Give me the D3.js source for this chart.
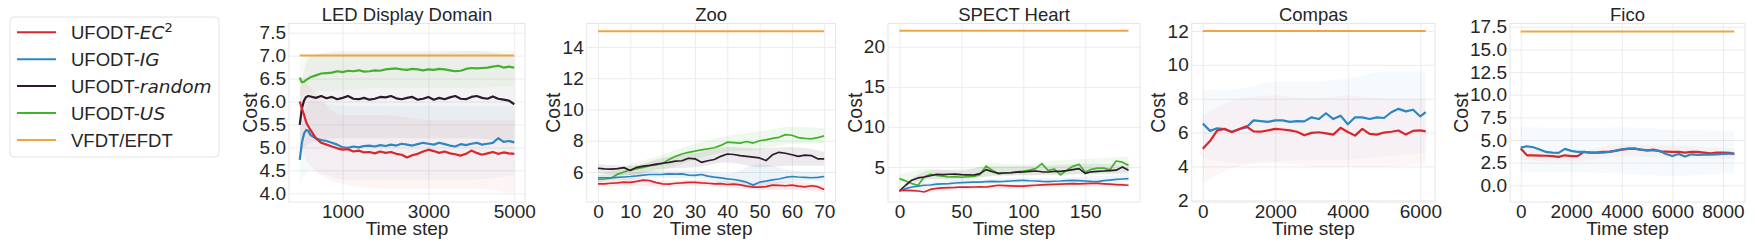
<!DOCTYPE html>
<html>
<head>
<meta charset="utf-8">
<script src="https://cdn.jsdelivr.net/npm/d3@7"></script>
<style>
  body { margin: 0; background: #fff; }
  svg { display: block; font-family: "Liberation Sans", Arial, sans-serif; }
  .grid line { stroke: #ececec; stroke-width: 1; }
  .grid path { display: none; }
  .ticks path { display: none; }
  .ticks text { fill: #262626; font-size: 19px; font-family: "Liberation Sans", Arial, sans-serif; }
</style>
</head>
<body>
<div id="vis"></div>
<script>
const W = 1755;
const H = 249;

const seriesNames = ['UFODT-EC2', 'UFODT-IG', 'UFODT-random', 'UFODT-US', 'VFDT/EFDT'];
const colors = { ec2: '#d8262b', ig: '#2e86c1', rnd: '#2b1b2c', us: '#45b02c', vfdt: '#f2a444' };

// ---- LED Display Domain ----
const ledSteps = [0, 50, 100, 150, 200, 250, 375, 500, 625, 750, 875, 1000, 1125, 1250, 1375, 1500, 1625, 1750, 1875, 2000,
  2125, 2250, 2375, 2500, 2625, 2750, 2875, 3000, 3125, 3250, 3375, 3500, 3625, 3750, 3875, 4000, 4125, 4250, 4375, 4500,
  4625, 4750, 4875, 5000];
const ledUS = [6.52, 6.42, 6.43, 6.47, 6.50, 6.53, 6.57, 6.61, 6.62, 6.63, 6.66, 6.64, 6.67, 6.66, 6.68, 6.65, 6.66, 6.68, 6.67, 6.70,
  6.71, 6.72, 6.70, 6.69, 6.71, 6.70, 6.68, 6.70, 6.69, 6.71, 6.70, 6.68, 6.66, 6.67, 6.71, 6.73, 6.72, 6.73, 6.74, 6.76,
  6.78, 6.74, 6.76, 6.74];
const ledRandom = [5.49, 5.85, 6.02, 6.10, 6.12, 6.11, 6.08, 6.12, 6.07, 6.10, 6.05, 6.08, 6.12, 6.06, 6.05, 6.08, 6.04, 6.06, 6.10, 6.09,
  6.12, 6.07, 6.05, 6.08, 6.10, 6.04, 6.06, 6.10, 6.04, 6.08, 6.05, 6.09, 6.12, 6.06, 6.05, 6.10, 6.12, 6.08, 6.06, 6.11,
  6.06, 6.04, 6.02, 5.94];
const ledEC2 = [6.00, 5.85, 5.71, 5.55, 5.46, 5.38, 5.20, 5.10, 5.06, 5.02, 4.98, 4.95, 4.96, 4.91, 4.93, 4.89, 4.90, 4.87, 4.91, 4.88,
  4.90, 4.86, 4.84, 4.78, 4.83, 4.86, 4.91, 4.95, 4.92, 4.88, 4.91, 4.87, 4.85, 4.82, 4.86, 4.93, 4.88, 4.84, 4.87, 4.90,
  4.86, 4.89, 4.87, 4.86];
const ledIG = [4.73, 5.10, 5.30, 5.38, 5.36, 5.27, 5.20, 5.16, 5.14, 5.10, 5.06, 5.00, 4.99, 5.02, 5.00, 5.03, 5.04, 5.02, 5.05, 5.03,
  5.06, 5.04, 5.08, 5.06, 5.04, 5.07, 5.10, 5.08, 5.06, 5.10, 5.07, 5.04, 5.02, 5.07, 5.05, 5.08, 5.10, 5.06, 5.08, 5.10,
  5.20, 5.12, 5.14, 5.11];
const ledBandSteps = [0, 250, 1000, 2000, 3000, 4000, 5000];
const ledUSLo = [6.10, 6.20, 6.25, 6.30, 6.30, 6.30, 6.35];
const ledUSHi = [6.90, 7.00, 7.05, 7.05, 7.05, 7.10, 7.10];
const ledRandomLo = [4.90, 5.10, 5.20, 5.20, 5.20, 5.20, 5.10];
const ledRandomHi = [6.20, 7.00, 7.10, 7.10, 7.10, 7.10, 7.00];
const ledEC2Lo = [5.00, 4.60, 4.20, 4.10, 4.10, 4.10, 4.00];
const ledEC2Hi = [6.50, 6.30, 5.70, 5.70, 5.60, 5.60, 5.60];
const ledIGLo = [4.20, 4.50, 4.30, 4.30, 4.30, 4.30, 4.40];
const ledIGHi = [5.30, 6.00, 5.90, 5.90, 5.90, 5.90, 5.90];

// ---- Zoo ----
const zooSteps = [0, 2, 4, 6, 8, 10, 12, 14, 16, 18, 20, 22, 24, 26, 28, 30, 32, 34, 36, 38, 40, 42, 44, 46, 48, 50, 52, 54, 56, 58,
  60, 62, 64, 66, 68, 70];
const zooUS = [5.52, 5.55, 5.60, 5.85, 6.00, 6.14, 6.22, 6.30, 6.40, 6.45, 6.55, 6.80, 7.00, 7.15, 7.25, 7.33, 7.42, 7.48, 7.55, 7.70,
  7.91, 7.88, 7.85, 7.95, 7.85, 8.00, 8.05, 8.15, 8.22, 8.39, 8.35, 8.20, 8.15, 8.12, 8.20, 8.31];
const zooRandom = [6.24, 6.20, 6.18, 6.22, 6.28, 6.10, 6.30, 6.38, 6.42, 6.50, 6.56, 6.62, 6.70, 6.72, 6.88, 6.84, 6.62, 6.72, 6.80, 7.00,
  7.15, 7.12, 7.05, 7.00, 6.95, 6.90, 6.73, 7.10, 7.26, 7.20, 7.10, 7.00, 7.08, 7.05, 6.84, 6.84];
const zooIG = [5.63, 5.63, 5.62, 5.65, 5.68, 5.71, 5.75, 5.80, 5.84, 5.84, 5.85, 5.88, 5.86, 5.88, 5.80, 5.78, 5.84, 5.74, 5.67, 5.62,
  5.56, 5.52, 5.45, 5.35, 5.16, 5.35, 5.42, 5.50, 5.55, 5.65, 5.71, 5.68, 5.66, 5.63, 5.66, 5.71];
const zooEC2 = [5.24, 5.24, 5.28, 5.30, 5.35, 5.33, 5.40, 5.48, 5.45, 5.32, 5.24, 5.22, 5.28, 5.30, 5.33, 5.33, 5.30, 5.28, 5.24, 5.26,
  5.20, 5.22, 5.18, 5.10, 5.03, 5.03, 5.06, 5.16, 5.14, 5.12, 5.16, 5.10, 5.05, 5.12, 5.06, 4.88];
const zooBandSteps = [0, 10, 20, 30, 40, 50, 60, 70];
const zooUSLo = [5.30, 5.80, 6.10, 6.80, 7.30, 7.40, 7.80, 7.80];
const zooUSHi = [5.80, 6.50, 7.10, 7.80, 8.30, 8.60, 8.90, 8.80];
const zooRandomLo = [5.90, 5.80, 6.20, 6.30, 6.60, 6.30, 6.40, 6.40];
const zooRandomHi = [6.50, 6.40, 6.90, 7.20, 7.60, 7.50, 7.60, 7.30];
const zooIGLo = [5.45, 5.50, 5.60, 5.60, 5.30, 5.00, 5.40, 5.40];
const zooIGHi = [5.80, 5.95, 6.10, 6.10, 5.90, 6.50, 6.10, 6.00];
const zooEC2Lo = [5.05, 5.10, 5.05, 5.10, 5.00, 4.85, 4.85, 4.70];
const zooEC2Hi = [5.45, 5.60, 5.45, 5.50, 5.40, 5.30, 5.40, 5.10];

// ---- SPECT Heart ----
const spectSteps = [0, 5, 10, 15, 20, 25, 30, 35, 40, 45, 50, 55, 60, 65, 70, 75, 80, 85, 90, 95, 100, 105, 110, 115, 120, 125,
  130, 135, 140, 145, 150, 155, 160, 165, 170, 175, 180, 185];
const spectUS = [3.55, 3.26, 2.93, 2.72, 3.75, 4.09, 3.96, 3.85, 3.75, 3.80, 3.72, 3.78, 3.82, 4.05, 5.12, 4.58, 4.16, 4.25, 4.30, 4.40,
  4.49, 4.60, 4.79, 5.42, 4.58, 4.75, 4.00, 4.60, 5.08, 5.33, 4.37, 4.70, 4.85, 4.85, 4.65, 5.75, 5.60, 5.21];
const spectRandom = [2.00, 2.72, 3.35, 3.63, 3.75, 3.90, 4.09, 4.05, 4.09, 4.10, 4.05, 4.02, 4.00, 4.17, 4.67, 4.40, 4.20, 4.25, 4.28, 4.35,
  4.37, 4.45, 4.50, 4.40, 4.37, 4.45, 4.45, 4.55, 4.67, 4.79, 4.20, 4.40, 4.45, 4.50, 4.55, 4.60, 5.00, 4.60];
const spectIG = [2.00, 2.29, 2.50, 2.60, 2.72, 2.75, 2.85, 2.90, 2.92, 3.00, 3.04, 3.08, 3.10, 3.12, 3.17, 3.20, 3.17, 3.20, 3.25, 3.30,
  3.33, 3.28, 3.25, 3.20, 3.17, 3.22, 3.25, 3.30, 3.33, 3.30, 3.25, 3.20, 3.17, 3.30, 3.37, 3.45, 3.50, 3.55];
const spectEC2 = [2.08, 2.08, 2.05, 2.00, 1.88, 2.20, 2.33, 2.38, 2.42, 2.45, 2.50, 2.48, 2.50, 2.52, 2.50, 2.60, 2.72, 2.68, 2.65, 2.62,
  2.60, 2.68, 2.72, 2.76, 2.80, 2.82, 2.85, 2.88, 2.92, 2.90, 2.92, 2.95, 2.96, 2.90, 2.85, 2.80, 2.76, 2.72];
const spectBandSteps = [0, 25, 50, 75, 100, 125, 150, 185];
const spectUSLo = [3.0, 3.3, 3.3, 3.8, 3.9, 4.1, 4.0, 4.4];
const spectUSHi = [4.0, 4.8, 4.5, 5.5, 5.3, 5.8, 6.0, 6.3];
const spectRandomLo = [1.8, 3.5, 3.5, 3.9, 4.0, 4.0, 4.2, 4.1];
const spectRandomHi = [2.3, 4.6, 4.7, 5.1, 5.1, 5.2, 5.4, 5.3];
const spectIGLo = [1.8, 2.4, 2.7, 2.9, 3.0, 2.9, 3.0, 3.1];
const spectIGHi = [2.2, 3.1, 3.4, 3.5, 3.7, 3.6, 3.8, 4.0];
const spectEC2Lo = [1.9, 1.9, 2.2, 2.3, 2.3, 2.5, 2.6, 2.5];
const spectEC2Hi = [2.2, 2.3, 2.6, 2.8, 2.9, 3.0, 3.1, 3.0];

// ---- Compas ----
const compasSteps = [0, 200, 400, 600, 800, 1000, 1200, 1400, 1600, 1800, 2000, 2200, 2400, 2600, 2800, 3000, 3200, 3400, 3600, 3800,
  4000, 4200, 4400, 4600, 4800, 5000, 5200, 5400, 5600, 5800, 6000, 6150];
const compasEC2 = [5.05, 5.50, 6.13, 6.22, 6.03, 6.20, 6.37, 6.07, 6.05, 6.13, 6.22, 6.18, 6.13, 6.05, 5.84, 5.98, 6.02, 5.95, 5.88, 6.28,
  6.03, 5.82, 6.22, 5.92, 5.88, 6.00, 6.05, 6.12, 5.88, 6.10, 6.13, 6.07];
const compasIG = [6.53, 6.10, 6.25, 6.20, 6.03, 6.20, 6.30, 6.72, 6.68, 6.63, 6.72, 6.72, 6.63, 6.68, 6.66, 6.90, 6.80, 7.14, 6.80, 7.00,
  6.49, 6.90, 6.90, 6.80, 6.90, 6.86, 7.20, 7.40, 7.25, 7.35, 6.95, 7.20];
const compasBandSteps = [0, 1000, 2000, 3000, 4000, 5000, 6150];
const compasIGLo = [4.5, 4.2, 4.3, 4.4, 4.4, 4.6, 4.8];
const compasIGHi = [8.5, 8.6, 9.0, 9.0, 9.2, 9.6, 9.6];
const compasEC2Lo = [3.0, 4.0, 4.2, 4.0, 4.0, 4.0, 4.1];
const compasEC2Hi = [7.0, 8.0, 8.2, 8.0, 8.2, 8.0, 8.0];

// ---- Fico ----
const ficoSteps = [0, 250, 500, 750, 1000, 1250, 1500, 1750, 2000, 2250, 2500, 2750, 3000, 3250, 3500, 3750, 4000, 4250, 4500, 4750,
  5000, 5250, 5500, 5750, 6000, 6250, 6500, 6750, 7000, 7250, 7500, 7750, 8000, 8250, 8450];
const ficoEC2 = [4.05, 3.31, 3.31, 3.28, 3.26, 3.22, 3.13, 3.31, 3.22, 3.22, 3.68, 3.60, 3.60, 3.68, 3.68, 3.79, 3.94, 4.01, 4.05, 3.94,
  3.86, 3.94, 3.75, 3.72, 3.68, 3.68, 3.60, 3.68, 3.68, 3.60, 3.53, 3.60, 3.60, 3.57, 3.46];
const ficoIG = [4.16, 4.31, 4.20, 3.94, 3.68, 3.60, 3.57, 4.02, 3.80, 3.68, 3.68, 3.60, 3.60, 3.60, 3.68, 3.83, 3.98, 4.05, 4.05, 3.94,
  3.86, 3.86, 3.79, 3.46, 3.24, 3.46, 3.17, 3.42, 3.35, 3.38, 3.38, 3.42, 3.46, 3.50, 3.50];
const ficoBandSteps = [0, 2000, 4000, 6000, 8450];
const ficoIGLo = [1.5, 1.4, 1.3, 1.0, 1.4];
const ficoIGHi = [6.5, 6.3, 6.4, 6.2, 6.0];
const ficoEC2Lo = [2.8, 2.6, 3.2, 3.0, 2.9];
const ficoEC2Hi = [4.3, 3.6, 4.5, 4.4, 4.0];

// VFDT/EFDT constant cost per dataset
const vfdtCost = [7, 15, 22, 12, 17];

const panels = [
  {
    title: 'LED Display Domain', left: 289, right: 525, xDomain: [-250, 5250], yDomain: [3.81, 7.70],
    xTicks: [1000, 3000, 5000], yTicks: [4.0, 4.5, 5.0, 5.5, 6.0, 6.5, 7.0, 7.5], yFmt: d3.format('.1f'), lw: 2.2,
    xs: ledSteps, bandXs: ledBandSteps, bandOpacity: 0.05,
    series: [
      { key: 'us', vals: ledUS, lo: ledUSLo, hi: ledUSHi },
      { key: 'rnd', vals: ledRandom, lo: ledRandomLo, hi: ledRandomHi },
      { key: 'ig', vals: ledIG, lo: ledIGLo, hi: ledIGHi },
      { key: 'ec2', vals: ledEC2, lo: ledEC2Lo, hi: ledEC2Hi },
    ],
  },
  {
    title: 'Zoo', left: 586.7, right: 835.5, xDomain: [-3.5, 73.5], yDomain: [4.08, 15.5],
    xTicks: [0, 10, 20, 30, 40, 50, 60, 70], yTicks: [6, 8, 10, 12, 14], yFmt: d3.format('d'), lw: 1.7,
    xs: zooSteps, bandXs: zooBandSteps, bandOpacity: 0.09,
    series: [
      { key: 'us', vals: zooUS, lo: zooUSLo, hi: zooUSHi },
      { key: 'rnd', vals: zooRandom, lo: zooRandomLo, hi: zooRandomHi },
      { key: 'ig', vals: zooIG, lo: zooIGLo, hi: zooIGHi },
      { key: 'ec2', vals: zooEC2, lo: zooEC2Lo, hi: zooEC2Hi },
    ],
  },
  {
    title: 'SPECT Heart', left: 888, right: 1140, xDomain: [-9.25, 194.25], yDomain: [0.63, 22.9],
    xTicks: [0, 50, 100, 150], yTicks: [5, 10, 15, 20], yFmt: d3.format('d'), lw: 1.7,
    xs: spectSteps, bandXs: spectBandSteps, bandOpacity: 0.08,
    series: [
      { key: 'us', vals: spectUS, lo: spectUSLo, hi: spectUSHi },
      { key: 'rnd', vals: spectRandom, lo: spectRandomLo, hi: spectRandomHi },
      { key: 'ig', vals: spectIG, lo: spectIGLo, hi: spectIGHi },
      { key: 'ec2', vals: spectEC2, lo: spectEC2Lo, hi: spectEC2Hi },
    ],
  },
  {
    title: 'Compas', left: 1191.7, right: 1435, xDomain: [-305, 6405], yDomain: [1.9, 12.44],
    xTicks: [0, 2000, 4000, 6000], yTicks: [2, 4, 6, 8, 10, 12], yFmt: d3.format('d'), lw: 2.2,
    xs: compasSteps, bandXs: compasBandSteps, bandOpacity: 0.04,
    series: [
      { key: 'ig', vals: compasIG, lo: compasIGLo, hi: compasIGHi },
      { key: 'ec2', vals: compasEC2, lo: compasEC2Lo, hi: compasEC2Hi },
    ],
  },
  {
    title: 'Fico', left: 1510, right: 1745, xDomain: [-423, 8873], yDomain: [-1.85, 17.87],
    xTicks: [0, 2000, 4000, 6000, 8000], yTicks: [0, 2.5, 5, 7.5, 10, 12.5, 15, 17.5], yFmt: d3.format('.1f'), lw: 2.2,
    xs: ficoSteps, bandXs: ficoBandSteps, bandOpacity: 0.045,
    series: [
      { key: 'ec2', vals: ficoEC2, lo: ficoEC2Lo, hi: ficoEC2Hi },
      { key: 'ig', vals: ficoIG, lo: ficoIGLo, hi: ficoIGHi },
    ],
  },
];

const TOP = 23.5;
const BOTTOM = 202;

const svg = d3.select('#vis').append('svg').attr('width', W).attr('height', H);

panels.forEach((p, pi) => {
  const x = d3.scaleLinear().domain(p.xDomain).range([p.left, p.right]);
  const y = d3.scaleLinear().domain(p.yDomain).range([BOTTOM, TOP]);
  const g = svg.append('g');

  // grid
  g.append('g').attr('class', 'grid').attr('transform', `translate(0,${BOTTOM})`)
    .call(d3.axisBottom(x).tickValues(p.xTicks).tickSize(-(BOTTOM - TOP)).tickFormat(''));
  g.append('g').attr('class', 'grid').attr('transform', `translate(${p.left},0)`)
    .call(d3.axisLeft(y).tickValues(p.yTicks).tickSize(-(p.right - p.left)).tickFormat(''));

  // frame
  g.append('rect').attr('x', p.left).attr('y', TOP).attr('width', p.right - p.left).attr('height', BOTTOM - TOP)
    .attr('fill', 'none').attr('stroke', '#e6e6e6').attr('stroke-width', 1);

  // bands
  const area = d3.area().x((d) => x(d.t)).y0((d) => y(d.lo)).y1((d) => y(d.hi)).curve(d3.curveMonotoneX);
  p.series.forEach((s) => {
    const pts = p.bandXs.map((t, i) => ({ t, lo: s.lo[i], hi: s.hi[i] }));
    g.append('path').datum(pts).attr('d', area).attr('fill', colors[s.key]).attr('fill-opacity', p.bandOpacity);
  });

  // VFDT/EFDT constant
  const xs = p.xs;
  const line = d3.line().x((d) => x(d.t)).y((d) => y(d.v));
  g.append('path').datum([{ t: xs[0], v: vfdtCost[pi] }, { t: xs[xs.length - 1], v: vfdtCost[pi] }])
    .attr('d', line).attr('fill', 'none').attr('stroke', colors.vfdt).attr('stroke-width', 2);

  // series lines
  p.series.forEach((s) => {
    const pts = xs.map((t, i) => ({ t, v: s.vals[i] }));
    g.append('path').datum(pts).attr('d', line).attr('fill', 'none')
      .attr('stroke', colors[s.key]).attr('stroke-width', p.lw).attr('stroke-linejoin', 'round');
  });

  // tick labels
  g.append('g').attr('class', 'ticks').attr('transform', `translate(0,${BOTTOM})`)
    .call(d3.axisBottom(x).tickValues(p.xTicks).tickSize(0).tickPadding(2).tickFormat(d3.format('d')));
  const yAx = g.append('g').attr('class', 'ticks').attr('transform', `translate(${p.left},0)`)
    .call(d3.axisLeft(y).tickValues(p.yTicks).tickSize(0).tickPadding(3).tickFormat(p.yFmt));

  const bb = yAx.node().getBBox();
  const labelX = p.left + bb.x - 9;
  g.append('text').attr('transform', `translate(${labelX},${(TOP + BOTTOM) / 2}) rotate(-90)`)
    .attr('text-anchor', 'middle').attr('dy', '0.35em').attr('font-size', 19.5).attr('fill', '#262626').text('Cost');

  g.append('text').attr('x', (p.left + p.right) / 2).attr('y', 235).attr('text-anchor', 'middle')
    .attr('font-size', 19).attr('fill', '#262626').text('Time step');

  g.append('text').attr('x', (p.left + p.right) / 2).attr('y', 20.5).attr('text-anchor', 'middle')
    .attr('font-size', 18.5).attr('fill', '#262626').text(p.title);
});

// legend
const legend = svg.append('g');
legend.append('rect').attr('x', 10).attr('y', 17).attr('width', 209).attr('height', 140).attr('rx', 4)
  .attr('fill', '#fff').attr('stroke', '#e2e2e2');
const legendKeys = ['ec2', 'ig', 'rnd', 'us', 'vfdt'];
const legendParts = [['EC', true], ['IG', false], ['random', false], ['US', false], null];
seriesNames.forEach((name, i) => {
  const ly = 32.3 + i * 26.9;
  legend.append('line').attr('x1', 17).attr('x2', 56).attr('y1', ly).attr('y2', ly)
    .attr('stroke', colors[legendKeys[i]]).attr('stroke-width', 2);
  const t = legend.append('text').attr('x', 71).attr('y', ly + 7).attr('font-size', 18.5).attr('fill', '#262626');
  const part = legendParts[i];
  if (part) {
    t.append('tspan').text('UFODT-');
    t.append('tspan').attr('font-family', '"DejaVu Sans", sans-serif').attr('font-style', 'italic').text(part[0]);
    if (part[1]) {
      t.append('tspan').attr('font-family', '"DejaVu Sans", sans-serif').attr('font-size', 13)
        .attr('dy', -7).text('2');
    }
  } else {
    t.text(name);
  }
});
</script>
</body>
</html>
